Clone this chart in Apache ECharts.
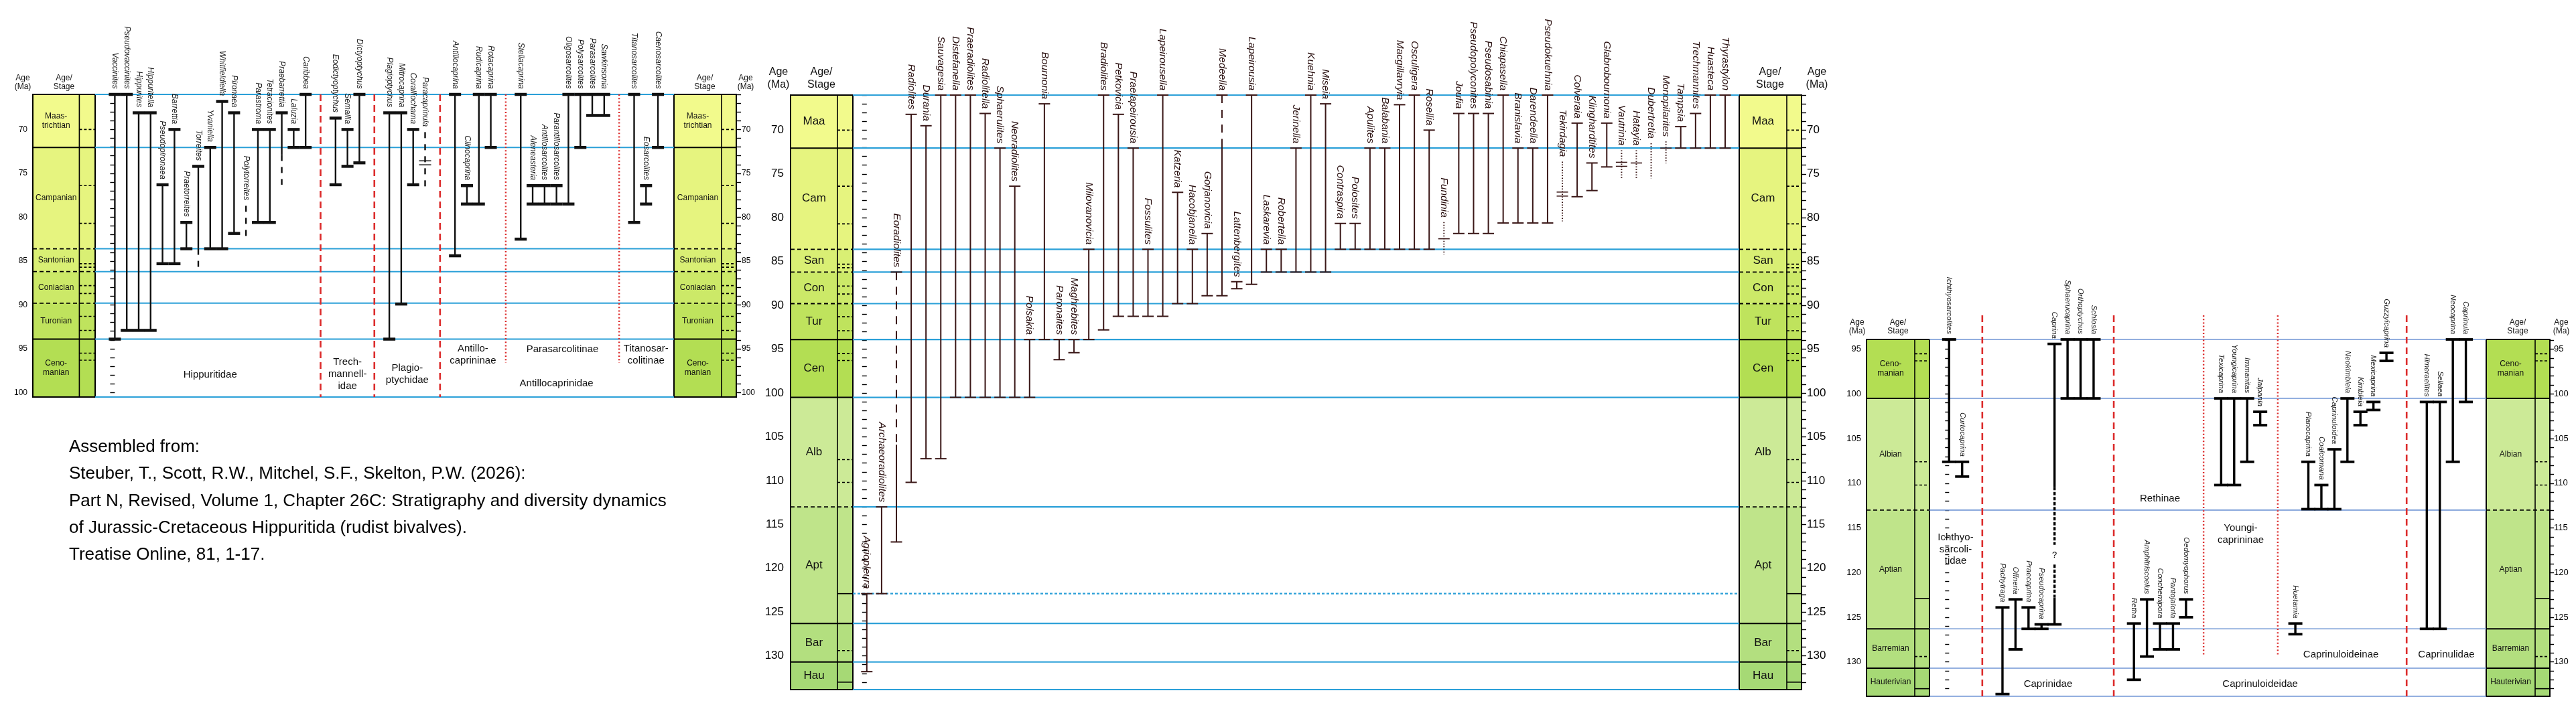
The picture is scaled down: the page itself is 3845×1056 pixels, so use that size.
<!DOCTYPE html>
<html>
<head>
<meta charset="utf-8">
<title>Rudist genera ranges</title>
<script src="https://cdn.jsdelivr.net/npm/echarts@6.0.0/dist/echarts.min.js"></script>
<style>
html,body{margin:0;padding:0;background:#ffffff;}
#chart{width:3845px;height:1056px;}
</style>
</head>
<body>
<div id="chart"></div>
<script>
// ================= DATA =================
// Chronostratigraphy (Ma)
const stageAbbr  = ['Maa','Cam','San','Con','Tur','Cen','Alb','Apt','Bar','Hau'];
const stageLong  = ['Maas-\ntrichtian','Campanian','Santonian','Coniacian','Turonian','Ceno-\nmanian','Albian','Aptian','Barremian','Hauterivian'];
const stageTop   = [66.0, 72.05, 83.6, 86.2, 89.8, 93.9, 100.5, 113.0, 126.3, 130.7];
const stageBase  = [72.05, 83.6, 86.2, 89.8, 93.9, 100.5, 113.0, 126.3, 130.7, 133.85];
const stageColor = ['#F2FA8C','#E6F47F','#D9EF74','#CCE968','#BFE35D','#B3DE53','#CCEA97','#BFE48A','#B3DF7F','#A6D975'];
const stageBaseStyle = ['solid','dashed','dashed','dashed','solid','solid','dashed','solid','solid','solid'];
const substageDashed = [70.0, 76.4, 80.7, 85.3, 85.7, 87.8, 88.7, 91.3, 92.9, 95.5, 96.3, 107.6, 110.2, 129.4];
const substageSolid  = [122.9, 133.0];

// Age tick labels
const leftAgeLabels  = [70, 75, 80, 85, 90, 95, 100];
const midAgeLabels   = [70, 75, 80, 85, 90, 95, 100, 105, 110, 115, 120, 125, 130];
const rightAgeLabels = [95, 100, 105, 110, 115, 120, 125, 130];

// Blue reference lines (stage boundaries shown across the range area)
const leftBlueAges  = [66.0, 72.05, 83.6, 86.2, 89.8, 93.9, 100.5];
const midBlueAges   = [66.0, 72.05, 83.6, 86.2, 89.8, 93.9, 100.5, 113.0, 126.3, 130.7, 133.85];
const midBlueDotted = [122.9];
const rightBlueAges = [93.9, 100.5, 113.0, 126.3, 130.7, 133.85];

// ---- Left panel: Hippuritidae ... Antillocaprinidae ----
const leftNames = ['Vaccinites','Pseudovaccinites','Hippurites','Hippuritella','Pseudopironaea','Barrettia','Praetorreites','Torreites','Yvaniella','Whitfieldiella','Pironaea','Polytorreites','Parastroma','Tetracionites','Praebarrettia','Laluzia','Caribbea',
  'Eodictyoptychus','Semailia','Dictyoptychus',
  'Plagioptychus','Mitrocaprina','Coralliochama','Paracaprinula',
  'Antillocaprina','Clinocaprina','Rudicaprina','Rotacaprina',
  'Stellacaprina','Aleneasteria','Antillosarcolites','Parantillosarcolites','Oligosarcolites','Polysarcolites','Parasarcolites','Sawkinsonia',
  'Titanosarcolites','Eosarcolites','Caenosarcolites'];
const leftTop  = [66.0,66.0,68.1,68.1,76.3,70.0,80.6,74.2,72.05,66.8,68.1,78.7,70.0,70.0,68.1,70.0,66.0, 68.7,70.0,66.0, 68.1,68.1,70.0,70.3, 66.0,76.4,66.0,66.0, 66.0,76.4,76.4,76.4,66.0,66.0,66.0,66.0, 66.0,76.4,66.0];
const leftBase = [93.9,92.9,92.9,92.9,85.3,85.3,83.6,85.8,83.6,83.6,81.85,82.5,80.6,80.6,76.3,72.05,72.05, 76.3,74.2,73.8, 93.9,89.9,76.3,76.8, 84.4,78.5,78.5,72.05, 82.5,78.5,78.5,78.5,78.5,72.05,68.4,68.4, 80.6,78.5,72.05];
const leftGroupSizes  = [17, 3, 4, 4, 8, 3];
const leftSepTypes    = ['dash','dash','dash','dot','dot'];
const leftGroupLabels = ['Hippuritidae','Trech-\nmannell-\nidae','Plagio-\nptychidae','Antillo-\ncaprininae','Parasarcolitinae','Titanosar-\ncolitinae'];
const leftFamily      = {label:'Antillocaprinidae', from:3, to:5};
const leftUncertain   = [['Torreites',83.6,85.8,'dash'],['Polytorreites',78.7,82.5,'dash'],['Praebarrettia',72.9,76.3,'dash'],['Paracaprinula',70.3,76.8,'dash']];
const leftOpenEnds    = [['Torreites','base'],['Polytorreites','top'],['Polytorreites','base'],['Praebarrettia','base'],['Paracaprinula','top'],['Paracaprinula','base']];
const leftMarks       = [['Paracaprinula',73.8,'double']];

// ---- Middle panel: Radiolitidae and allies ----
const midNames = ['Agriopleura','Archaeoradiolites','Eoradiolites','Radiolites','Durania','Sauvagesia','Distefanella','Praeradiolites','Radiolitella','Sphaerulites','Neoradiolites','Polsakia','Bournonia','Paronaites','Maghrebites','Milovanovicia','Bradiolites','Petkovicia','Praelapeirousia','Fossulites','Lapeirousella','Katzeria','Hacobjanella','Gorjanovicia','Medeella','Lattenbergites','Lapeirousia','Laskarevia','Robertella','Jerinella','Kuehnia','Miseia','Contraspira','Polosites','Apulites','Balabania','Macgillavryia','Osculigera','Rosellia','Fundinia','Joufia','Pseudopolyconites','Pseudosabinia','Chiapasella','Branislavia','Darendeella','Pseudokuehnia','Tekirdagia','Colveraia','Klinghardtites','Glabrobournonia','Vautrinia','Hatayia','Dubertretia','Monopilarites','Tampsia','Trechmannites','Huasteca','Thyrastylon'];
const midTop  = [122.9,113.0,86.2,68.2,69.5,66.0,66.0,66.0,68.1,72.05,76.4,93.9,67.0,93.9,93.9,83.6,66.0,68.2,72.05,83.6,66.0,77.1,83.6,81.8,66.0,87.3,66.0,83.6,83.6,72.05,66.0,67.0,80.65,80.65,72.05,72.05,67.1,66.0,70.0,80.5,68.1,68.1,68.1,66.0,72.05,72.05,66.0,73.6,69.2,73.75,69.2,72.3,72.3,71.5,71.3,69.6,68.1,66.0,66.0];
const midBase = [131.8,122.9,117.0,110.2,107.5,107.5,100.5,100.5,100.5,100.5,100.5,100.5,93.9,96.2,95.4,93.9,92.8,91.25,91.25,91.25,91.25,89.8,89.8,88.9,88.9,88.1,87.6,86.2,86.2,86.2,86.2,86.2,83.6,83.6,83.6,83.6,83.6,83.6,83.6,84.2,81.8,81.8,81.8,80.6,80.6,80.6,80.6,80.4,77.6,76.9,74.2,75.5,75.5,75.5,73.8,72.05,72.05,72.05,72.05];
const midGroupSizes = [59];
const midUncertain  = [['Eoradiolites',86.2,105.9,'dash'],['Medeella',66.0,71.0,'dash'],['Fundinia',80.5,84.2,'dot'],['Tekirdagia',73.6,80.4,'dot'],['Vautrinia',72.3,75.5,'dot'],['Hatayia',72.3,75.5,'dot'],['Dubertretia',71.5,75.5,'dot'],['Monopilarites',71.3,73.8,'dot']];
const midOpenEnds   = [['Fundinia','top'],['Fundinia','base'],['Tekirdagia','top'],['Tekirdagia','base'],['Vautrinia','top'],['Vautrinia','base'],['Hatayia','top'],['Hatayia','base'],['Dubertretia','top'],['Dubertretia','base'],['Monopilarites','top'],['Monopilarites','base']];
const midMarks      = [['Fundinia',82.4,'cross'],['Tekirdagia',77.3,'double'],['Vautrinia',73.9,'double'],['Hatayia',73.75,'cross'],['Monopilarites',72.05,'cross']];

// ---- Right panel: Ichthyosarcolitidae, Caprinidae, Caprinuloideidae, Caprinulidae ----
const rightNames = ['Ichthyosarcolites','Curtocaprina',
  'Pachytraga','Offneria','Praecaprina','Pseudocaprina','Caprina','Sphaerucaprina','Orthoptychus','Schiosia',
  'Retha','Amphitriscoelus','Conchemipora','Pantojaloria','Oedomyophorus',
  'Texicaprina','Youngicaprina','Immanitas','Jalpania',
  'Huetamia','Planocaprina','Coalcomana','Caprinuloidea','Neokimbleia','Kimbleia','Mexicaprina','Guzzyicaprina',
  'Himeraelites','Sellaea','Neocaprina','Caprinula'];
const rightTop  = [93.9,107.6, 123.9,123.0,123.9,125.8,94.4,93.9,93.9,93.9, 125.7,123.0,125.7,125.7,123.0, 100.5,100.5,100.5,102.0, 125.7,107.6,110.2,106.2,100.5,102.0,100.9,95.4, 100.9,100.9,93.9,93.9];
const rightBase = [107.6,109.25, 133.6,128.6,126.3,126.3,125.8,100.5,100.5,100.5, 132.0,129.4,128.6,128.6,125.0, 110.2,110.2,107.6,103.5, 126.9,112.9,112.9,112.9,107.6,103.5,101.8,96.3, 126.3,126.3,107.6,100.9];
const rightGroupSizes  = [2, 8, 5, 4, 8, 4];
const rightSepTypes    = ['dash','dash','dot','dot','dash'];
const rightGroupLabels = ['Ichthyo-\nsarcoli-\ntidae','Caprinidae','Rethinae','Youngi-\ncaprininae','Caprinuloideinae','Caprinulidae'];
const rightFamily      = {label:'Caprinuloideidae', from:2, to:4};
const rightUncertain   = [['Caprina',110.4,116.9,'dash'],['Caprina',116.9,119.1,'gap'],['Caprina',119.1,122.8,'dash']];
const rightOpenEnds    = [];
const rightMarks       = [['Caprina',118.1,'?']];

const citation = ['Assembled from:',
  'Steuber, T., Scott, R.W., Mitchel, S.F., Skelton, P.W. (2026):',
  'Part N, Revised, Volume 1, Chapter 26C: Stratigraphy and diversity dynamics',
  'of Jurassic-Cretaceous Hippuritida (rudist bivalves).',
  'Treatise Online, 81, 1-17.'];

// ================= LAYOUT / STYLE =================
const FONT = '"Liberation Sans", Arial, Helvetica, sans-serif';

const panels = [
  { names:leftNames, top:leftTop, base:leftBase, groupSizes:leftGroupSizes, sepTypes:leftSepTypes,
    groupLabels:leftGroupLabels, family:leftFamily, uncertain:leftUncertain, openEnds:leftOpenEnds, marks:leftMarks,
    range:[66.0,100.5], blue:leftBlueAges, blueDotted:[], ageLabels:leftAgeLabels, stageText:stageLong,
    lay:{ axisL:49, axisR:1099, top:141, bottom:593, firstPx:171.4, lastPx:982.1,
      gap:{dash:1.51, dot:1.51}, colL:[49,118.4,142], colR:[1006,1077,1099],
      sepSpan:{dash:[66.0,100.5], dot:[66.0,96.6]},
      groupAge:[98.0,97.9,97.9,95.7,95.05,95.7], familyAge:99.0,
      lineColor:'#111', lineWidth:2.4, capHalf:9, capWidth:4.5,
      labelSize:12, labelColor:'#1a1a1a', labelGap:6,
      tickSize:12, marginL:8, marginR:8, tickLen:7,
      stageSize:12, stageLH:14, groupSize:15, groupLH:18,
      blueColor:'#2ba0d8', blueWidth:2, dashPat:[9,9], dotPat:[1.5,2.5], uncWidth:2.4,
      headSize:12, headLH:13, headY:123, headX:[34,95.5,1052,1113] } },
  { names:midNames, top:midTop, base:midBase, groupSizes:midGroupSizes, sepTypes:[],
    groupLabels:[], family:null, uncertain:midUncertain, openEnds:midOpenEnds, marks:midMarks,
    range:[66.0,133.85], blue:midBlueAges, blueDotted:midBlueDotted, ageLabels:midAgeLabels, stageText:stageAbbr,
    lay:{ axisL:1180, axisR:2689, top:142, bottom:1030, firstPx:1293.8, lastPx:2575,
      gap:{dash:0, dot:0}, colL:[1180,1250,1273], colR:[2596,2667,2689],
      sepSpan:{dash:[66,133.85], dot:[66,133.85]}, groupAge:[], familyAge:0,
      lineColor:'#3a1717', lineWidth:2, capHalf:8.5, capWidth:2,
      labelSize:15.5, labelColor:'#2a1010', labelGap:6,
      tickSize:17, marginL:10, marginR:8, tickLen:7,
      stageSize:17, stageLH:19, groupSize:15, groupLH:18,
      blueColor:'#2ba0d8', blueWidth:2.2, dashPat:[12,10], dotPat:[1.5,2.5], uncWidth:2,
      headSize:16, headLH:19, headY:117, headX:[1162,1226,2642,2712] } },
  { names:rightNames, top:rightTop, base:rightBase, groupSizes:rightGroupSizes, sepTypes:rightSepTypes,
    groupLabels:rightGroupLabels, family:rightFamily, uncertain:rightUncertain, openEnds:rightOpenEnds, marks:rightMarks,
    range:[93.9,133.85], blue:rightBlueAges, blueDotted:[], ageLabels:rightAgeLabels, stageText:stageLong,
    lay:{ axisL:2786, axisR:3806, top:507, bottom:1040, firstPx:2909.3, lastPx:3680.6,
      gap:{dash:2.1, dot:1.7}, colL:[2786,2858,2880], colR:[3711,3784,3806],
      sepSpan:{dash:[91.2,133.85], dot:[91.2,129.2]},
      groupAge:[117.4,132.5,111.7,115.7,129.2,129.2], familyAge:132.5,
      lineColor:'#000', lineWidth:3.4, capHalf:10.5, capWidth:3.8,
      labelSize:11.5, labelColor:'#1a1a1a', labelGap:6,
      tickSize:13, marginL:8, marginR:6, tickLen:6,
      stageSize:12, stageLH:14, groupSize:15, groupLH:17.5,
      blueColor:'#6f95d4', blueWidth:1.6, dashPat:[5,2.5], dotPat:[1.5,2.5], uncWidth:3.4,
      headSize:12, headLH:13, headY:488, headX:[2772,2833,3758,3823] } }
];

// ================= BUILD =================
const grids = [], xAxes = [], yAxes = [], series = [], graphics = [];

function hline(x1, x2, y, stroke, lw, dash) {
  return {type:'line', shape:{x1:x1, y1:y, x2:x2, y2:y}, style:{stroke:stroke, lineWidth:lw, lineDash:dash || null}};
}
function vline(x, y1, y2, stroke, lw, dash) {
  return {type:'line', shape:{x1:x, y1:y1, x2:x, y2:y2}, style:{stroke:stroke, lineWidth:lw, lineDash:dash || null}};
}
function txt(x, y, s, font, fill, align, vAlign, lh, rot) {
  const el = {type:'text', x:x, y:y, style:{text:s, font:font, fill:fill, align:align || 'center', verticalAlign:vAlign || 'middle'}};
  if (lh) el.style.lineHeight = lh;
  if (rot) el.rotation = rot;
  return el;
}

panels.forEach((P, pi) => {
  const L = P.lay;
  // slot positions derived from order within groups
  const slots = [], groupRanges = [], seps = [];
  let pos = 0, idx = 0;
  P.groupSizes.forEach((sz, g) => {
    if (g > 0) {
      const t = P.sepTypes[g - 1], extra = L.gap[t];
      seps.push({x: ((pos - 1) + (pos + extra)) / 2, type: t});
      pos += extra;
    }
    const start = pos;
    for (let k = 0; k < sz; k++) { slots[idx++] = pos; pos += 1; }
    groupRanges.push([start, pos - 1]);
  });
  const lastSlot = slots[slots.length - 1];
  const sp = (L.lastPx - L.firstPx) / lastSlot;
  const toSlot = px => (px - L.firstPx) / sp;
  const xMin = toSlot(L.axisL), xMax = toSlot(L.axisR);
  const [amin, amax] = P.range;

  grids.push({left:L.axisL, top:L.top, width:L.axisR - L.axisL, height:L.bottom - L.top, containLabel:false, outerBoundsMode:'none'});
  xAxes.push({type:'value', gridIndex:pi, min:xMin, max:xMax, show:false});
  const ticks = [];
  for (let v = Math.ceil(amin); v <= Math.floor(amax); v++) ticks.push(v);
  ['left','right'].forEach(side => {
    yAxes.push({type:'value', gridIndex:pi, inverse:true, min:amin, max:amax, position:side,
      axisLine:{show:false}, splitLine:{show:false},
      axisTick:{show:true, inside:false, length:L.tickLen, lineStyle:{color:'#000', width:1.4}, customValues:ticks},
      axisLabel:{show:true, customValues:P.ageLabels, color:'#000', fontSize:L.tickSize, fontFamily:FONT,
        margin: side === 'left' ? L.marginL : L.marginR}});
  });
  const yIdx = pi * 2;

  // ---- frame: stage columns, boundaries, blue lines, separators, group labels ----
  series.push({type:'custom', coordinateSystem:'cartesian2d', xAxisIndex:pi, yAxisIndex:yIdx, clip:false, silent:true,
    data:[[0, amin]], encode:{x:0, y:1}, z:1,
    renderItem:(params, api) => {
      const X = px => api.coord([toSlot(px), amin])[0];
      const Y = a => api.coord([0, a])[1];
      const ch = [];
      const cols = [L.colL, L.colR];
      // stage fills + labels
      stageTop.forEach((st, s) => {
        const t = Math.max(st, amin), b = Math.min(stageBase[s], amax);
        if (b <= t) return;
        cols.forEach(c => {
          ch.push({type:'rect', shape:{x:X(c[0]), y:Y(t), width:X(c[2]) - X(c[0]), height:Y(b) - Y(t)}, style:{fill:stageColor[s]}});
        });
        cols.forEach(c => {
          ch.push(txt((X(c[0]) + X(c[1])) / 2, (Y(t) + Y(b)) / 2, P.stageText[s], L.stageSize + 'px ' + FONT, '#111', 'center', 'middle', L.stageLH));
        });
      });
      // substage lines in the narrow column
      cols.forEach(c => {
        substageDashed.forEach(a => { if (a > amin && a < amax) ch.push(hline(X(c[1]), X(c[2]), Y(a), '#000', 1.6, [4,3])); });
        substageSolid.forEach(a => { if (a > amin && a < amax) ch.push(hline(X(c[1]), X(c[2]), Y(a), '#000', 1.6)); });
      });
      // stage boundaries
      stageTop.forEach((st, s) => {
        if (s === 0 || st <= amin || st >= amax) return;
        const dashed = stageBaseStyle[s - 1] === 'dashed';
        cols.forEach(c => ch.push(hline(X(c[0]), X(c[2]), Y(st), '#000', dashed ? 1.8 : 2, dashed ? [6,4] : null)));
      });
      // column frames
      cols.forEach(c => {
        ch.push({type:'rect', shape:{x:X(c[0]), y:Y(amin), width:X(c[2]) - X(c[0]), height:Y(amax) - Y(amin)}, style:{fill:null, stroke:'#000', lineWidth:2}});
        ch.push(vline(X(c[1]), Y(amin), Y(amax), '#000', 1.6));
      });
      // blue lines
      const bx1 = X(L.colL[2]), bx2 = X(L.colR[0]);
      P.blue.forEach(a => ch.push(hline(bx1, bx2, Y(a), L.blueColor, L.blueWidth)));
      P.blueDotted.forEach(a => ch.push(hline(bx1, bx2, Y(a), L.blueColor, L.blueWidth, [4,3])));
      // separators between families / subfamilies
      seps.forEach(sObj => {
        const span = L.sepSpan[sObj.type];
        const x = api.coord([sObj.x, amin])[0];
        ch.push(vline(x, Y(span[0]), Y(span[1]), '#dc2b2b', sObj.type === 'dash' ? 2.6 : 2.4, sObj.type === 'dash' ? [10,6] : [2,3.2]));
      });
      // group labels
      P.groupLabels.forEach((lab, g) => {
        const r = groupRanges[g];
        const x = api.coord([(r[0] + r[1]) / 2, amin])[0];
        ch.push(txt(x, Y(L.groupAge[g]), lab, L.groupSize + 'px ' + FONT, '#111', 'center', 'middle', L.groupLH));
      });
      if (P.family) {
        const x = api.coord([(groupRanges[P.family.from][0] + groupRanges[P.family.to][1]) / 2, amin])[0];
        ch.push(txt(x, Y(L.familyAge), P.family.label, L.groupSize + 'px ' + FONT, '#111'));
      }
      return {type:'group', children:ch};
    }});

  // ---- taxon ranges ----
  series.push({type:'custom', coordinateSystem:'cartesian2d', xAxisIndex:pi, yAxisIndex:yIdx, clip:false, silent:true, z:3,
    data:P.names.map((n, i) => [slots[i], P.top[i], P.base[i]]), encode:{x:0, y:[1,2]},
    renderItem:(params, api) => {
      const i = params.dataIndex, name = P.names[i];
      const t = api.value(1), b = api.value(2);
      const x = api.coord([api.value(0), t])[0];
      const Y = a => api.coord([api.value(0), a])[1];
      const ch = [];
      const unc = P.uncertain.filter(u => u[0] === name).sort((p, q) => p[1] - q[1]);
      let cur = t;
      unc.forEach(u => {
        if (u[1] > cur) ch.push(vline(x, Y(cur), Y(u[1]), L.lineColor, L.lineWidth));
        if (u[3] === 'dash') ch.push(vline(x, Y(u[1]), Y(u[2]), L.lineColor, L.uncWidth, L.dashPat));
        else if (u[3] === 'dot') ch.push(vline(x, Y(u[1]), Y(u[2]), L.lineColor, L.uncWidth, L.dotPat));
        cur = Math.max(cur, u[2]);
      });
      if (b > cur) ch.push(vline(x, Y(cur), Y(b), L.lineColor, L.lineWidth));
      const open = P.openEnds.filter(o => o[0] === name).map(o => o[1]);
      if (open.indexOf('top') < 0) ch.push(hline(x - L.capHalf, x + L.capHalf, Y(t), L.lineColor, L.capWidth));
      if (open.indexOf('base') < 0) ch.push(hline(x - L.capHalf, x + L.capHalf, Y(b), L.lineColor, L.capWidth));
      P.marks.filter(m => m[0] === name).forEach(m => {
        const y = Y(m[1]);
        if (m[2] === 'cross') ch.push(hline(x - L.capHalf, x + L.capHalf, y, L.lineColor, 1.6));
        else if (m[2] === 'double') {
          ch.push(hline(x - L.capHalf, x + L.capHalf, y - 3, L.lineColor, 1.5));
          ch.push(hline(x - L.capHalf, x + L.capHalf, y + 3, L.lineColor, 1.5));
        } else ch.push(txt(x, y, m[2], '13px ' + FONT, '#000'));
      });
      ch.push(txt(x, Y(t) - L.labelGap - L.capWidth / 2, name, 'italic ' + L.labelSize + 'px ' + FONT, L.labelColor, 'right', 'middle', null, -Math.PI / 2));
      return {type:'group', children:ch};
    }});

  // headers
  const hf = L.headSize + 'px ' + FONT;
  [['Age\n(Ma)',0],['Age/\nStage',1],['Age/\nStage',2],['Age\n(Ma)',3]].forEach(h => {
    graphics.push({type:'text', x:L.headX[h[1]], y:L.headY, style:{text:h[0], font:hf, fill:'#111', align:'center', verticalAlign:'middle', lineHeight:L.headLH}});
  });
});

citation.forEach((line, k) => {
  graphics.push({type:'text', x:103, y:668 + k * 40.3, style:{text:line, font:'26px ' + FONT, fill:'#000', align:'left', verticalAlign:'middle'}});
});

const chart = echarts.init(document.getElementById('chart'), null, {renderer:'canvas', width:3845, height:1056});
chart.setOption({
  animation:false,
  backgroundColor:'#ffffff',
  grid:grids, xAxis:xAxes, yAxis:yAxes, series:series,
  graphic:{elements:graphics}
});
</script>
</body>
</html>
